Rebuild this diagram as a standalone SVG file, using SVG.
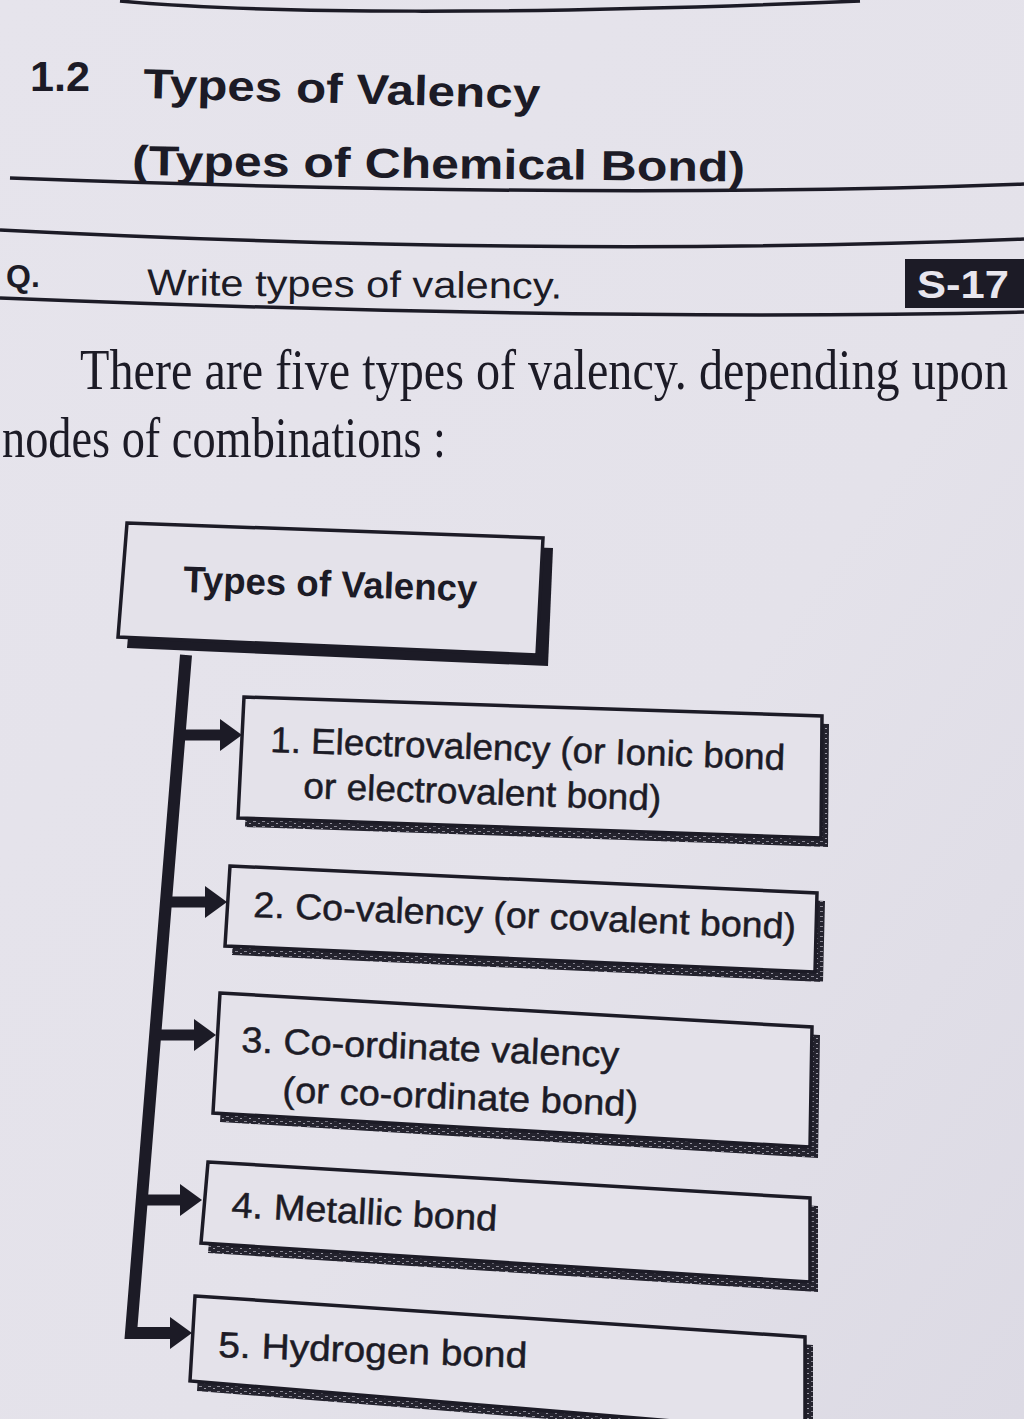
<svg xmlns="http://www.w3.org/2000/svg" width="1024" height="1419" viewBox="0 0 1024 1419">
<defs>
<linearGradient id="bg" x1="0" y1="0" x2="1" y2="1">
<stop offset="0" stop-color="#e6e4ec"/>
<stop offset="0.6" stop-color="#e4e2ea"/>
<stop offset="1" stop-color="#dcdae4"/>
</linearGradient>
<pattern id="tex" width="9" height="5" patternUnits="userSpaceOnUse">
<rect width="9" height="5" fill="#24232e"/>
<rect x="1" y="1" width="3" height="1" fill="#8a8894"/>
<rect x="6" y="3" width="2" height="1" fill="#9a98a4"/>
</pattern>
<marker id="ah" markerUnits="userSpaceOnUse" markerWidth="24" markerHeight="34" refX="0" refY="16" orient="auto">
<path d="M0,0 L22,16 L0,32 Z" fill="#1c1b26"/>
</marker>
<style>
.ink{fill:#1c1b26}
.rule{fill:none;stroke:#1c1b26;stroke-width:3.5}
.sans{font-family:"Liberation Sans",Arial,sans-serif}
.serif{font-family:"Liberation Serif","Times New Roman",serif}
.box{fill:#e4e2ea;stroke:#1c1b26;stroke-width:3.5;stroke-linejoin:miter}
.shadow{fill:url(#tex)}
.item{font-family:"Liberation Sans",Arial,sans-serif;font-size:36px;fill:#1c1b26;stroke:#1c1b26;stroke-width:0.5}
.conn{fill:none;stroke:#1c1b26;stroke-linejoin:miter}
</style>
</defs>
<rect width="1024" height="1419" fill="url(#bg)"/>

<g id="header">
<path class="rule" d="M120,1 C260,14 520,15 860,1"/>
<text class="sans ink" x="30" y="91" font-size="42" font-weight="bold" textLength="60" lengthAdjust="spacingAndGlyphs">1.2</text>
<text class="sans ink" x="143" y="98" font-size="42" font-weight="bold" textLength="397" lengthAdjust="spacingAndGlyphs" transform="rotate(1.5 143 98)">Types of Valency</text>
<text class="sans ink" x="132" y="175" font-size="42" font-weight="bold" textLength="613" lengthAdjust="spacingAndGlyphs" transform="rotate(0.6 132 175)">(Types of Chemical Bond)</text>
<path class="rule" d="M10,178 Q600,200 1024,184"/>
</g>

<g id="question">
<path class="rule" d="M0,230 Q550,258 1024,239"/>
<text class="sans ink" x="6" y="287" font-size="32" font-weight="bold">Q.</text>
<text class="sans ink" x="147" y="295" font-size="37" textLength="415" lengthAdjust="spacingAndGlyphs" transform="rotate(0.5 147 295)">Write types of valency.</text>
<rect x="905" y="259" width="125" height="49" class="ink"/>
<text class="sans" x="917" y="298" font-size="38" font-weight="bold" fill="#e8e6ee" textLength="92" lengthAdjust="spacingAndGlyphs">S-17</text>
<path class="rule" d="M0,298 Q600,322 1024,312"/>
</g>

<g id="paragraph">
<text class="serif ink" x="0" y="0" font-size="47.5" textLength="928" lengthAdjust="spacingAndGlyphs" transform="translate(80 389) scale(1 1.22)">There are five types of valency. depending upon</text>
<text class="serif ink" x="0" y="0" font-size="47.5" textLength="444" lengthAdjust="spacingAndGlyphs" transform="translate(2 457) scale(1 1.22)">nodes of combinations :</text>
</g>

<g id="connectors">
<path class="conn" stroke-width="12" d="M186,655 L131,1333 L170,1333" marker-end="url(#ah)"/>
<path class="conn" stroke-width="11" d="M179,735 L220,735" marker-end="url(#ah)"/>
<path class="conn" stroke-width="11" d="M166,902 L205,902" marker-end="url(#ah)"/>
<path class="conn" stroke-width="11" d="M155,1035 L194,1035" marker-end="url(#ah)"/>
<path class="conn" stroke-width="11" d="M142,1200 L180,1200" marker-end="url(#ah)"/>
</g>

<g id="node-root">
<polygon points="137,533 553,548 548,666 127,648" class="ink"/>
<polygon points="127,523 543,538 537,655 118,637" class="box"/>
<text class="sans ink" x="183" y="592" font-size="37" font-weight="bold" textLength="294" lengthAdjust="spacingAndGlyphs" transform="rotate(1.8 183 592)">Types of Valency</text>
</g>

<g id="node-1">
<polygon points="251,705 829,724 828,847 245,827" class="shadow"/>
<polygon points="244,697 822,716 821,838 238,818" class="box"/>
<text class="item" x="270" y="752" textLength="515" lengthAdjust="spacingAndGlyphs" transform="rotate(2 270 752)">1. Electrovalency (or Ionic bond</text>
<text class="item" x="303" y="798" textLength="358" lengthAdjust="spacingAndGlyphs" transform="rotate(2 303 798)">or electrovalent bond)</text>
</g>

<g id="node-2">
<polygon points="237,874 825,901 823,982 232,955" class="shadow"/>
<polygon points="230,866 817,893 815,972 225,946" class="box"/>
<text class="item" x="253" y="917" textLength="543" lengthAdjust="spacingAndGlyphs" transform="rotate(2.3 253 917)">2. Co-valency (or covalent bond)</text>
</g>

<g id="node-3">
<polygon points="227,1001 820,1035 818,1158 220,1122" class="shadow"/>
<polygon points="220,993 812,1027 810,1147 213,1113" class="box"/>
<text class="item" x="241" y="1052" textLength="378" lengthAdjust="spacingAndGlyphs" transform="rotate(2.3 241 1052)">3. Co-ordinate valency</text>
<text class="item" x="282" y="1102" textLength="356" lengthAdjust="spacingAndGlyphs" transform="rotate(2.3 282 1102)">(or co-ordinate bond)</text>
</g>

<g id="node-4">
<polygon points="215,1170 818,1206 818,1292 208,1253" class="shadow"/>
<polygon points="208,1162 810,1198 810,1282 201,1243" class="box"/>
<text class="item" x="231" y="1217" textLength="266" lengthAdjust="spacingAndGlyphs" transform="rotate(3 231 1217)">4. Metallic bond</text>
</g>

<g id="node-5">
<polygon points="202,1304 813,1345 813,1440 197,1391" class="shadow"/>
<polygon points="195,1296 805,1337 805,1432 190,1381" class="box"/>
<text class="item" x="218" y="1357" textLength="309" lengthAdjust="spacingAndGlyphs" transform="rotate(2 218 1357)">5. Hydrogen bond</text>
</g>
</svg>
